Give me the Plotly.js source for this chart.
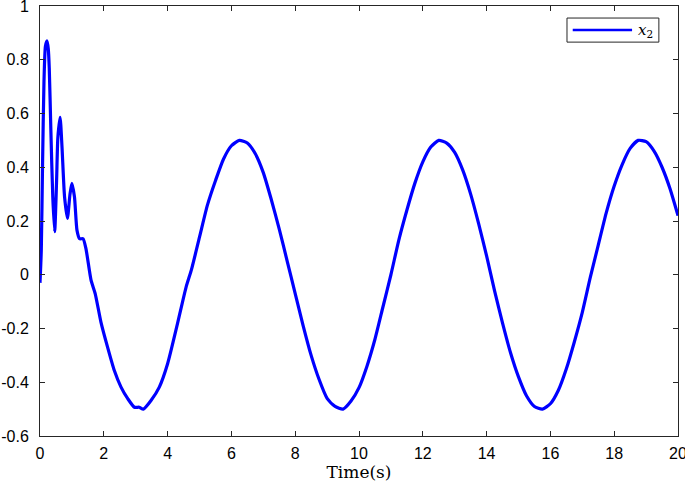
<!DOCTYPE html>
<html>
<head>
<meta charset="utf-8">
<script src="https://cdn.plot.ly/plotly-3.0.1.min.js"></script>
<style>
  html, body { margin: 0; padding: 0; background: #fff; }
  #plot { width: 685px; height: 485px; }
</style>
</head>
<body>
<div id="plot"></div>
<script>
// --- Data (time in s, x2 value) ---
const timeTransient = [0, 0.04, 0.08, 0.125, 0.17, 0.22, 0.26, 0.29, 0.34, 0.40, 0.46, 0.52, 0.56, 0.63, 0.69, 0.77, 0.86, 0.94, 1.0, 1.08, 1.16, 1.24, 1.35, 1.44,
  1.6, 1.73, 1.91, 2.12, 2.33, 2.54, 2.75, 2.96, 3.11, 3.24, 3.48, 3.74, 4.0, 4.31, 4.58];
const x2Transient = [-0.03, 0.09, 0.41, 0.72, 0.85, 0.87, 0.84, 0.77, 0.54, 0.29, 0.16, 0.35, 0.51, 0.586, 0.475, 0.29, 0.21, 0.30, 0.34, 0.29, 0.165, 0.134, 0.134, 0.097,
  -0.02, -0.07, -0.176, -0.27, -0.356, -0.418, -0.461, -0.493, -0.493, -0.5, -0.468, -0.418, -0.331, -0.182, -0.046];

const timeSteady = [4.75, 5, 5.25, 5.5, 5.75, 6, 6.25, 6.5, 6.75, 7, 7.25, 7.5, 7.75, 8, 8.25, 8.5, 8.75, 9, 9.25, 9.5, 9.75,
  10, 10.25, 10.5, 10.75, 11, 11.25, 11.5, 11.75, 12, 12.25, 12.5, 12.75, 13, 13.25, 13.5, 13.75, 14, 14.25, 14.5, 14.75,
  15, 15.25, 15.5, 15.75, 16, 16.25, 16.5, 16.75, 17, 17.25, 17.5, 17.75, 18, 18.25, 18.5, 18.75, 19, 19.25, 19.5, 19.75, 20];
const x2Steady = [0.02, 0.14, 0.26, 0.35, 0.43, 0.48, 0.5, 0.49, 0.45, 0.38, 0.28, 0.17, 0.05, -0.07, -0.19, -0.3, -0.39, -0.46, -0.49, -0.5, -0.47,
  -0.42, -0.34, -0.24, -0.12, 0.0, 0.13, 0.24, 0.34, 0.42, 0.475, 0.5, 0.49, 0.455, 0.39, 0.3, 0.19, 0.07, -0.06, -0.18, -0.29,
  -0.38, -0.45, -0.49, -0.5, -0.48, -0.43, -0.35, -0.25, -0.14, -0.01, 0.11, 0.23, 0.33, 0.41, 0.47, 0.5, 0.495, 0.46, 0.4, 0.32, 0.22];

const xTicks = [0, 2, 4, 6, 8, 10, 12, 14, 16, 18, 20];
const yTicks = [-0.6, -0.4, -0.2, 0, 0.2, 0.4, 0.6, 0.8, 1];
const yTickText = ['-0.6', '-0.4', '-0.2', '0', '0.2', '0.4', '0.6', '0.8', '1'];
const seriesName = '<i>x</i><sub>2</sub>';

// --- Build trace ---
const timeAll = timeTransient.concat(timeSteady);
const x2All = x2Transient.concat(x2Steady);

const trace = {
  x: timeAll,
  y: x2All,
  mode: 'lines',
  type: 'scatter',
  name: seriesName,
  showlegend: false,
  line: { color: '#0000ff', width: 3.2, shape: 'spline', smoothing: 0.6 }
};

const axisCommon = {
  showline: true,
  linecolor: '#262626',
  linewidth: 1,
  mirror: 'ticks',
  ticks: 'inside',
  ticklen: 5,
  tickcolor: '#262626',
  showgrid: false,
  zeroline: false,
  ticklabeloverflow: 'allow',
  tickfont: { family: 'Liberation Sans, Arial, sans-serif', size: 16, color: '#000' }
};

// MATLAB-style legend box: longer sample line than Plotly's built-in legend
const legendBox = { x0: 0.826, x1: 0.970, y0: 0.916, y1: 0.972 };
const legendShapes = [
  { type: 'rect', xref: 'paper', yref: 'paper', x0: legendBox.x0, x1: legendBox.x1, y0: legendBox.y0, y1: legendBox.y1,
    line: { color: '#262626', width: 1 }, fillcolor: '#fff' },
  { type: 'line', xref: 'paper', yref: 'paper', x0: 0.835, x1: 0.928, y0: 0.944, y1: 0.944,
    line: { color: '#0000ff', width: 2.5 } }
];

const layout = {
  width: 685,
  height: 485,
  margin: { l: 40, r: 7, t: 6, b: 49 },
  paper_bgcolor: '#fff',
  plot_bgcolor: '#fff',
  showlegend: false,
  shapes: legendShapes,
  annotations: [{
    xref: 'paper', yref: 'paper', x: 0.934, y: 0.944, xanchor: 'left', yanchor: 'middle',
    text: seriesName, showarrow: false,
    font: { family: 'DejaVu Serif, serif', size: 15, color: '#000' }
  }],
  xaxis: Object.assign({}, axisCommon, {
    range: [0, 20],
    tickvals: xTicks,
    ticklabelstandoff: 3,
    title: { text: 'Time(s)', font: { family: 'DejaVu Serif, Liberation Serif, serif', size: 17, color: '#000' }, standoff: 1 }
  }),
  yaxis: Object.assign({}, axisCommon, {
    range: [-0.6, 1],
    tickvals: yTicks,
    ticktext: yTickText,
    ticklabelstandoff: 7
  })
};

Plotly.newPlot('plot', [trace], layout, { displayModeBar: false, staticPlot: true });
</script>
</body>
</html>
